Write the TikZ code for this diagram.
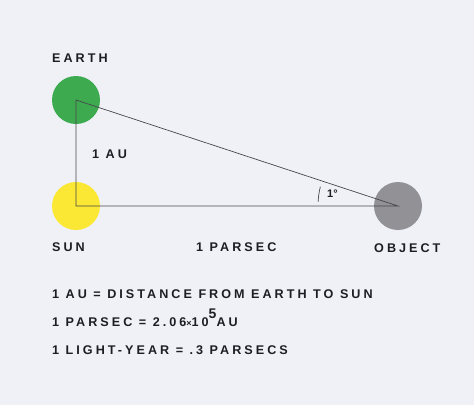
\documentclass[tikz,border=0pt]{standalone}
\usepackage{fontspec}
\usepackage{tikz}
\newfontfamily\lblfont[LetterSpace=24]{Liberation Sans Bold}
\newfontfamily\degfont{Liberation Sans Bold}
\definecolor{bgcol}{RGB}{240,241,246}
\definecolor{earthcol}{RGB}{62,170,80}
\definecolor{suncol}{RGB}{250,232,52}
\definecolor{objcol}{RGB}{146,146,150}
\definecolor{linecol}{RGB}{70,70,74}
\definecolor{txtcol}{RGB}{30,30,34}

\begin{document}
\begin{tikzpicture}
      [   x=1pt,y=-1pt,
          cnode/.style={fill=#1,minimum size=48pt,inner sep=0pt,circle},
          lbl/.style={anchor=base west,inner sep=0pt,text=txtcol,font=\fontsize{12.6}{14}\selectfont\lblfont},
          side/.style={draw=linecol,line width=0.7pt},
      ]
          \fill[bgcol] (0,0) rectangle (474,405);

          \node[cnode=earthcol] (earth) at (76,100) {};
          \node[cnode=suncol] (sun) at (76,206) {};
          \node[cnode=objcol] (object) at (398,206) {};

          \draw[side] (earth.center) -- (sun.center) -- (object.center) -- cycle;
          \draw[side] (object.center) ++(-166:80) arc (-166:-177:80);

          \node[lbl] (earthlbl) at (52,62) {EARTH};
          \node[lbl] (sunlbl) at (52,251) {SUN};
          \node[lbl] (aulbl) at (92,158) {1 AU};
          \node[lbl] (parseclbl) at (196,251) {1 PARSEC};
          \node[lbl] (objectlbl) at (374,252) {OBJECT};
          \node[anchor=base west,inner sep=0pt,text=txtcol,font=\fontsize{11}{13}\selectfont\degfont] (angle) at (327,197) {1°};

          \node[lbl] (line1) at (52,298) {1 AU = DISTANCE FROM EARTH TO SUN};
          \node[lbl] (line2) at (52,326) {1 PARSEC = 2.06{\fontsize{9}{10}\selectfont ×}10\raisebox{0.6em}{\fontsize{14}{14}\selectfont 5}AU};
          \node[lbl] (line3) at (52,354) {1 LIGHT-YEAR = .3 PARSECS};
    \end{tikzpicture}
\end{document}
